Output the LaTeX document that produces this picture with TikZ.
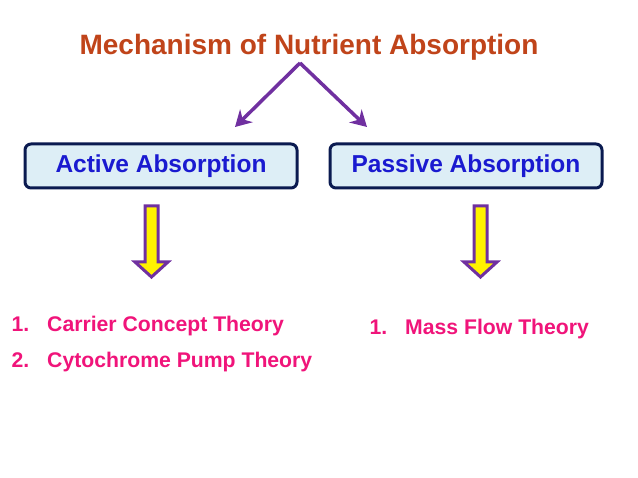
\documentclass[tikz,border=0pt]{standalone}
\usepackage{fontspec}
\setmainfont{Liberation Sans}
\usetikzlibrary{arrows.meta}
\definecolor{titlec}{HTML}{C0441A}
\definecolor{boxfill}{HTML}{DDEEF6}
\definecolor{boxline}{HTML}{0A1A50}
\definecolor{bluetxt}{HTML}{1A1AD0}
\definecolor{purp}{HTML}{7030A0}
\definecolor{pinkt}{HTML}{F0147A}
\tikzset{
  x=1pt,y=-1pt,
  headbox/.style={draw=boxline,line width=3pt,fill=boxfill,rounded corners=6pt,minimum width=272pt,minimum height=44pt,font=\fontsize{24.5}{28}\selectfont\bfseries,text=bluetxt},
  listtxt/.style={anchor=west,font=\fontsize{21.2}{24}\selectfont\bfseries,text=pinkt},
  parr/.style={draw=purp,line width=3.5pt,-{Stealth[length=16pt,width=18pt]}},
  blockarr/.style={draw=purp,line width=3pt,fill=yellow,line join=miter}
}
\begin{document}
\begin{tikzpicture}
\useasboundingbox (0,0) rectangle (638,478);
\node[font=\fontsize{28}{32}\selectfont\bfseries,text=titlec] (title) at (309,47) {Mechanism of Nutrient Absorption};
\coordinate (apex) at (300,63);
\coordinate (lt) at (235,127);
\coordinate (rt) at (367,127);
\draw[parr] (apex) -- (lt);
\draw[parr] (apex) -- (rt);
\node[headbox] (active) at (161,166) {Active Absorption};
\node[headbox] (passive) at (466,166) {Passive Absorption};
\draw[blockarr] (145,206) -- (158,206) -- (158,262) -- (168,262) -- (151.5,277) -- (135,262) -- (145,262) -- cycle;
\draw[blockarr] (474,206) -- (487,206) -- (487,262) -- (497,262) -- (480.5,277) -- (464,262) -- (474,262) -- cycle;
\node[listtxt] (l1) at (8,326) {1.\hspace{18pt}Carrier Concept Theory};
\node[listtxt] (l2) at (8,362) {2.\hspace{18pt}Cytochrome Pump Theory};
\node[listtxt] (r1) at (366,329) {1.\hspace{18pt}Mass Flow Theory};
\end{tikzpicture}
\end{document}
